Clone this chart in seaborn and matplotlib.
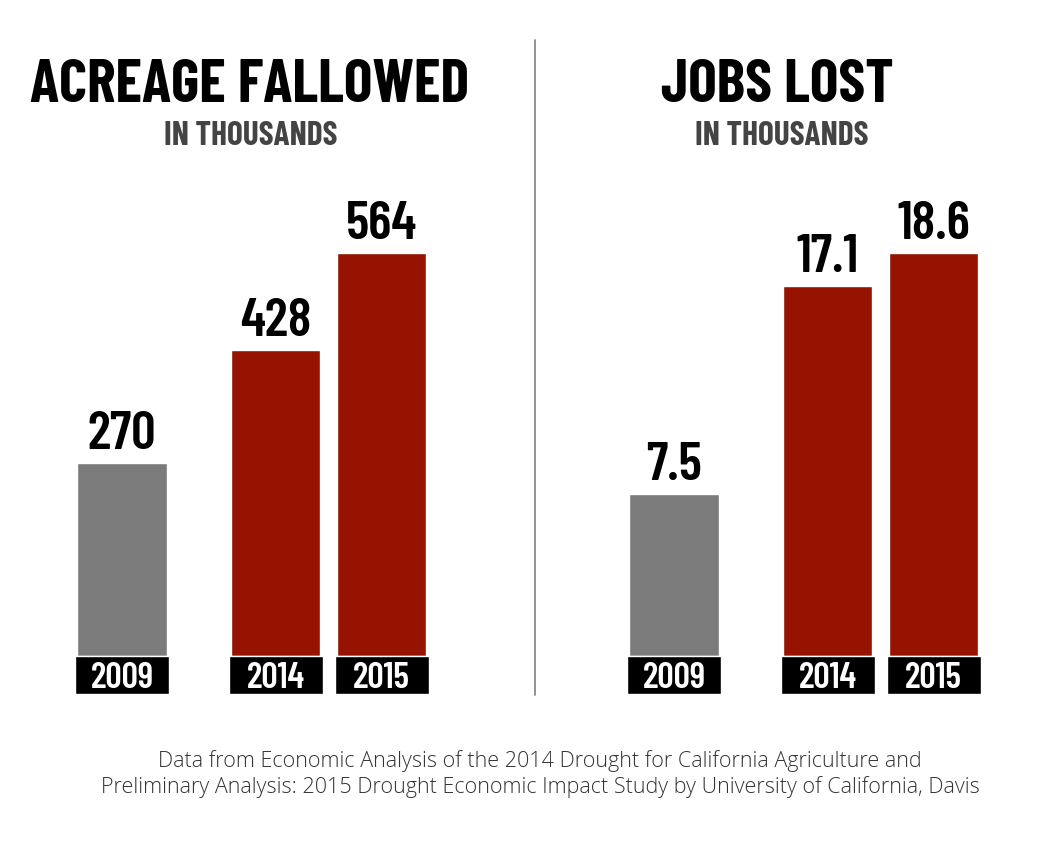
import matplotlib
matplotlib.use("Agg")
import matplotlib.pyplot as plt
import seaborn as sns
from matplotlib import font_manager
from matplotlib.lines import Line2D

# data
years = ["2009", "2014", "2015"]
acreage = [270, 428, 564]
acreage_labels = ["270", "428", "564"]
jobs = [7.5, 17.1, 18.6]
jobs_labels = ["7.5", "17.1", "18.6"]
x_pos = [0, 1.45, 2.45]  # 2009 sits a bit further away

bar_colors = {"2009": "#7b7b7b", "2014": "#951300", "2015": "#951300"}

sns.set_style("white")
names = {f.name for f in font_manager.fontManager.ttflist}


def pick(cands):
    for c in cands:
        if c in names:
            return c
    return "DejaVu Sans"


cond = pick(["Barlow Condensed", "Roboto Condensed", "Oswald", "Liberation Sans Narrow"])
light = pick(["Open Sans", "Roboto", "Liberation Sans"])
plt.rcParams["font.family"] = [cond, "DejaVu Sans"]

W, H = 1050, 852
fig = plt.figure(figsize=(W / 100, H / 100), dpi=100)
fig.patch.set_facecolor("white")

TOP, BASE, BOTTOM = 180, 656, 700  # pixel rows (from top)
BAR_PX = 403  # tallest bar height in px


def panel(left_px, values, labels, title, tx, sx):
    ax = fig.add_axes([left_px / W, 1 - BOTTOM / H, 440 / W, (BOTTOM - TOP) / H])
    scale = BAR_PX / max(values)
    sns.barplot(x=x_pos, y=values, hue=years, palette=bar_colors, native_scale=True,
                width=0.84, legend=False, saturation=1, ax=ax)
    ax.set_xlim(-82 / 106, 358 / 106)
    ax.set_ylim(-(BOTTOM - BASE) / scale, (BASE - TOP) / scale)
    box_h = 38 / scale
    ax.bar(x_pos, [-box_h] * len(x_pos), width=0.89, color="black")
    for x, v, lab, yr in zip(x_pos, values, labels, years):
        ax.annotate(lab, (x, v), xytext=(0, 10), textcoords="offset points",
                    ha="center", va="baseline", fontsize=39, fontweight="semibold",
                    color="black")
        ax.text(x, -box_h / 2, yr, ha="center", va="center_baseline", fontsize=26,
                fontweight="semibold", color="white")
    ax.set_axis_off()
    fig.text(tx / W, 1 - 86 / H, title, ha="center", va="center", fontsize=43.5,
             fontweight="bold", color="black")
    fig.text(sx / W, 1 - 136 / H, "IN THOUSANDS", ha="center", va="center",
             fontsize=24, fontweight="bold", color="#444444")
    return ax


panel(40, acreage, acreage_labels, "ACREAGE FALLOWED", 250, 251)
panel(592, jobs, jobs_labels, "JOBS LOST", 777, 782)

fig.add_artist(Line2D([535 / W, 535 / W], [1 - 40 / H, 1 - 695 / H],
                      color="#8a8a8a", lw=1.3))

foot = ("Data from Economic Analysis of the 2014 Drought for California Agriculture and\n"
        "Preliminary Analysis: 2015 Drought Economic Impact Study by University of California, Davis")
fig.text(540 / W, 1 - 774 / H, foot, ha="center", va="center", fontsize=15.5,
         family=[light, "DejaVu Sans"], fontweight="light", color="#333333",
         linespacing=1.25)

fig.savefig("out.png", dpi=100, facecolor="white")
